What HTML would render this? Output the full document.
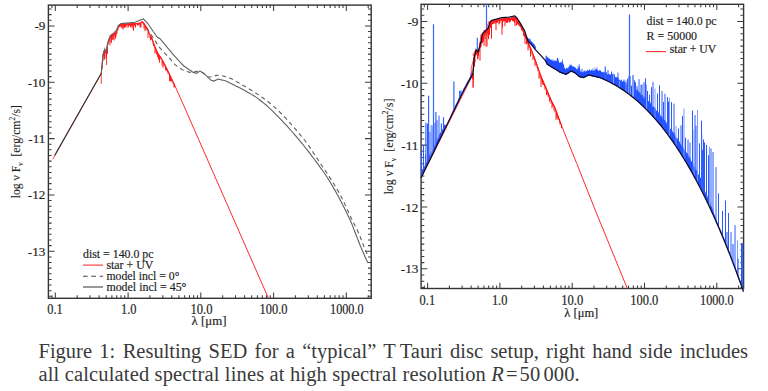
<!DOCTYPE html>
<html><head><meta charset="utf-8"><style>
html,body{margin:0;padding:0;background:#fff;width:768px;height:391px;overflow:hidden}
svg{position:absolute;left:0;top:0}
svg text{font-family:"Liberation Serif",serif;fill:#1e1e1e;stroke:#1e1e1e;stroke-width:0.18px}
.cap{position:absolute;left:38.5px;font-family:"Liberation Serif",serif;font-size:20.5px;color:#3a3a3a;white-space:nowrap;line-height:1}
</style></head><body>
<svg width="768" height="391" viewBox="0 0 768 391">
<rect x="48.4" y="5.1" width="322.8" height="293.2" fill="none" stroke="#333333" stroke-width="1.4"/>
<path d="M52 298.3V295.3M52 5.1V8.1M55.3 298.3V292.5M55.3 5.1V10.9M77.2 298.3V295.3M77.2 5.1V8.1M90 298.3V295.3M90 5.1V8.1M99.1 298.3V295.3M99.1 5.1V8.1M106.2 298.3V295.3M106.2 5.1V8.1M111.9 298.3V295.3M111.9 5.1V8.1M116.8 298.3V295.3M116.8 5.1V8.1M121 298.3V295.3M121 5.1V8.1M124.7 298.3V295.3M124.7 5.1V8.1M128.1 298.3V292.5M128.1 5.1V10.9M149.9 298.3V295.3M149.9 5.1V8.1M162.8 298.3V295.3M162.8 5.1V8.1M171.8 298.3V295.3M171.8 5.1V8.1M178.9 298.3V295.3M178.9 5.1V8.1M184.7 298.3V295.3M184.7 5.1V8.1M189.5 298.3V295.3M189.5 5.1V8.1M193.7 298.3V295.3M193.7 5.1V8.1M197.5 298.3V295.3M197.5 5.1V8.1M200.8 298.3V292.5M200.8 5.1V10.9M222.7 298.3V295.3M222.7 5.1V8.1M235.5 298.3V295.3M235.5 5.1V8.1M244.6 298.3V295.3M244.6 5.1V8.1M251.7 298.3V295.3M251.7 5.1V8.1M257.4 298.3V295.3M257.4 5.1V8.1M262.3 298.3V295.3M262.3 5.1V8.1M266.5 298.3V295.3M266.5 5.1V8.1M270.2 298.3V295.3M270.2 5.1V8.1M273.6 298.3V292.5M273.6 5.1V10.9M295.4 298.3V295.3M295.4 5.1V8.1M308.3 298.3V295.3M308.3 5.1V8.1M317.3 298.3V295.3M317.3 5.1V8.1M324.4 298.3V295.3M324.4 5.1V8.1M330.2 298.3V295.3M330.2 5.1V8.1M335 298.3V295.3M335 5.1V8.1M339.2 298.3V295.3M339.2 5.1V8.1M343 298.3V295.3M343 5.1V8.1M346.3 298.3V292.5M346.3 5.1V10.9M368.2 298.3V295.3M368.2 5.1V8.1M48.4 296.3H51.6M371.2 296.3H368M48.4 290.7H51.6M371.2 290.7H368M48.4 285H51.6M371.2 285H368M48.4 279.4H51.6M371.2 279.4H368M48.4 273.8H51.6M371.2 273.8H368M48.4 268.1H51.6M371.2 268.1H368M48.4 262.5H51.6M371.2 262.5H368M48.4 256.9H51.6M371.2 256.9H368M48.4 251.2H54.6M371.2 251.2H365M48.4 245.6H51.6M371.2 245.6H368M48.4 240H51.6M371.2 240H368M48.4 234.3H51.6M371.2 234.3H368M48.4 228.7H51.6M371.2 228.7H368M48.4 223.1H51.6M371.2 223.1H368M48.4 217.4H51.6M371.2 217.4H368M48.4 211.8H51.6M371.2 211.8H368M48.4 206.2H51.6M371.2 206.2H368M48.4 200.5H51.6M371.2 200.5H368M48.4 194.9H54.6M371.2 194.9H365M48.4 189.3H51.6M371.2 189.3H368M48.4 183.6H51.6M371.2 183.6H368M48.4 178H51.6M371.2 178H368M48.4 172.4H51.6M371.2 172.4H368M48.4 166.7H51.6M371.2 166.7H368M48.4 161.1H51.6M371.2 161.1H368M48.4 155.5H51.6M371.2 155.5H368M48.4 149.8H51.6M371.2 149.8H368M48.4 144.2H51.6M371.2 144.2H368M48.4 138.6H54.6M371.2 138.6H365M48.4 132.9H51.6M371.2 132.9H368M48.4 127.3H51.6M371.2 127.3H368M48.4 121.7H51.6M371.2 121.7H368M48.4 116H51.6M371.2 116H368M48.4 110.4H51.6M371.2 110.4H368M48.4 104.8H51.6M371.2 104.8H368M48.4 99.1H51.6M371.2 99.1H368M48.4 93.5H51.6M371.2 93.5H368M48.4 87.9H51.6M371.2 87.9H368M48.4 82.2H54.6M371.2 82.2H365M48.4 76.6H51.6M371.2 76.6H368M48.4 71H51.6M371.2 71H368M48.4 65.3H51.6M371.2 65.3H368M48.4 59.7H51.6M371.2 59.7H368M48.4 54.1H51.6M371.2 54.1H368M48.4 48.4H51.6M371.2 48.4H368M48.4 42.8H51.6M371.2 42.8H368M48.4 37.2H51.6M371.2 37.2H368M48.4 31.5H51.6M371.2 31.5H368M48.4 25.9H54.6M371.2 25.9H365M48.4 20.3H51.6M371.2 20.3H368M48.4 14.6H51.6M371.2 14.6H368M48.4 9H51.6M371.2 9H368" stroke="#3c3c3c" stroke-width="1.05" fill="none"/>
<rect x="421.1" y="4.3" width="322.5" height="284.2" fill="none" stroke="#333333" stroke-width="1.4"/>
<path d="M424.3 288.5V285.5M424.3 4.3V7.3M427.6 288.5V282.7M427.6 4.3V10.1M449.4 288.5V285.5M449.4 4.3V7.3M462.1 288.5V285.5M462.1 4.3V7.3M471.1 288.5V285.5M471.1 4.3V7.3M478.1 288.5V285.5M478.1 4.3V7.3M483.9 288.5V285.5M483.9 4.3V7.3M488.7 288.5V285.5M488.7 4.3V7.3M492.9 288.5V285.5M492.9 4.3V7.3M496.6 288.5V285.5M496.6 4.3V7.3M499.9 288.5V282.7M499.9 4.3V10.1M521.7 288.5V285.5M521.7 4.3V7.3M534.4 288.5V285.5M534.4 4.3V7.3M543.4 288.5V285.5M543.4 4.3V7.3M550.4 288.5V285.5M550.4 4.3V7.3M556.2 288.5V285.5M556.2 4.3V7.3M561 288.5V285.5M561 4.3V7.3M565.2 288.5V285.5M565.2 4.3V7.3M568.9 288.5V285.5M568.9 4.3V7.3M572.2 288.5V282.7M572.2 4.3V10.1M594 288.5V285.5M594 4.3V7.3M606.7 288.5V285.5M606.7 4.3V7.3M615.7 288.5V285.5M615.7 4.3V7.3M622.7 288.5V285.5M622.7 4.3V7.3M628.5 288.5V285.5M628.5 4.3V7.3M633.3 288.5V285.5M633.3 4.3V7.3M637.5 288.5V285.5M637.5 4.3V7.3M641.2 288.5V285.5M641.2 4.3V7.3M644.5 288.5V282.7M644.5 4.3V10.1M666.3 288.5V285.5M666.3 4.3V7.3M679 288.5V285.5M679 4.3V7.3M688 288.5V285.5M688 4.3V7.3M695 288.5V285.5M695 4.3V7.3M700.8 288.5V285.5M700.8 4.3V7.3M705.6 288.5V285.5M705.6 4.3V7.3M709.8 288.5V285.5M709.8 4.3V7.3M713.5 288.5V285.5M713.5 4.3V7.3M716.8 288.5V282.7M716.8 4.3V10.1M738.6 288.5V285.5M738.6 4.3V7.3M421.1 287.4H424.3M743.6 287.4H740.4M421.1 281.2H424.3M743.6 281.2H740.4M421.1 275H424.3M743.6 275H740.4M421.1 268.8H427.3M743.6 268.8H737.4M421.1 262.6H424.3M743.6 262.6H740.4M421.1 256.4H424.3M743.6 256.4H740.4M421.1 250.2H424.3M743.6 250.2H740.4M421.1 244.1H424.3M743.6 244.1H740.4M421.1 237.9H424.3M743.6 237.9H740.4M421.1 231.7H424.3M743.6 231.7H740.4M421.1 225.5H424.3M743.6 225.5H740.4M421.1 219.3H424.3M743.6 219.3H740.4M421.1 213.1H424.3M743.6 213.1H740.4M421.1 207H427.3M743.6 207H737.4M421.1 200.8H424.3M743.6 200.8H740.4M421.1 194.6H424.3M743.6 194.6H740.4M421.1 188.4H424.3M743.6 188.4H740.4M421.1 182.2H424.3M743.6 182.2H740.4M421.1 176H424.3M743.6 176H740.4M421.1 169.8H424.3M743.6 169.8H740.4M421.1 163.7H424.3M743.6 163.7H740.4M421.1 157.5H424.3M743.6 157.5H740.4M421.1 151.3H424.3M743.6 151.3H740.4M421.1 145.1H427.3M743.6 145.1H737.4M421.1 138.9H424.3M743.6 138.9H740.4M421.1 132.7H424.3M743.6 132.7H740.4M421.1 126.5H424.3M743.6 126.5H740.4M421.1 120.4H424.3M743.6 120.4H740.4M421.1 114.2H424.3M743.6 114.2H740.4M421.1 108H424.3M743.6 108H740.4M421.1 101.8H424.3M743.6 101.8H740.4M421.1 95.6H424.3M743.6 95.6H740.4M421.1 89.4H424.3M743.6 89.4H740.4M421.1 83.2H427.3M743.6 83.2H737.4M421.1 77.1H424.3M743.6 77.1H740.4M421.1 70.9H424.3M743.6 70.9H740.4M421.1 64.7H424.3M743.6 64.7H740.4M421.1 58.5H424.3M743.6 58.5H740.4M421.1 52.3H424.3M743.6 52.3H740.4M421.1 46.1H424.3M743.6 46.1H740.4M421.1 40H424.3M743.6 40H740.4M421.1 33.8H424.3M743.6 33.8H740.4M421.1 27.6H424.3M743.6 27.6H740.4M421.1 21.4H427.3M743.6 21.4H737.4M421.1 15.2H424.3M743.6 15.2H740.4M421.1 9H424.3M743.6 9H740.4" stroke="#3c3c3c" stroke-width="1.05" fill="none"/>
<path d="M52.8 159.3 L101.3 73.5 M101.3 73.5 V84 M106.3 53 L106.6 65 M111 37 L111.3 43 M113 34 V40 M115.2 33 V39" stroke="#ff2a2a" stroke-width="0.9" fill="none"/>
<path d="M101.3 73.5 L101.6 69.9 L102.1 64.6 L102.6 59.1 L103.1 55 L103.5 52.6 L104 51.1 L104.4 50.3 L104.8 50 L105.2 50.6 L105.5 52 L105.8 53.3 L106.1 53.5 L106.4 52.2 L106.7 50 L107.1 47.4 L107.5 45 L108.1 42.8 L108.7 40.7 L109.4 38.6 L110.2 37 L111.1 35.9 L112 35.2 L112.9 34.6 L113.8 34 L114.6 33.4 L115.3 32.9 L115.9 32.3 L116.5 31.5 L117 30.4 L117.4 29 L117.8 27.6 L118.3 26.5 L118.6 25.8 L118.9 25.2 L119.5 24.9 L121 24.5 L123.9 24.2 L127.8 23.9 L131.8 23.7 L135 23.5 L137 23.4 L138.4 23.3 L139.4 23.2 L140.3 23 L141 22.6 L141.5 22 L141.9 21.6 L142.6 21.8 L143.7 23 L144.9 24.8 L146.2 26.7 L147.2 28.4 L147.8 29.6 L148.2 30.7 L148.5 31.7 L149 32.8 L149.7 34.1 L150.5 35.6 L151.3 37 L152 38.5 L152.5 39.9 L153 41.2 L153.5 42.6 L154.1 44.3 L154.9 46.4 L155.9 48.7 L156.9 51.1 L157.9 53.2 L158.8 54.7 L159.7 56 L160.7 57.3 L161.8 59 L163.1 61.3 L164.5 63.9 L165.9 66.8 L167.5 70 L169.2 73.5 L171 77.3 L172.8 81.2 L174.6 85 L176.4 89.1 L178.3 93.3 L180 97.1 L181.2 99.8 L268.4 298.2" stroke="#ff2a2a" stroke-width="1" fill="none"/>
<path d="M101.5 71V72.7M102 65.3V69.2M102.5 60V61.9M103 55.5V61.1M103.5 52.5V55.7M104 50.8V52.1M104.5 50V59.7M105 50V52M105.5 51.8V53.2M106 53.1V57.9M106.5 51.3V59.4M107 47.5V50.6M107.5 44.7V53.9M108 42.8V44.5M108.5 41.1V42.7M109 39.5V42.4M109.5 38.2V40.6M110 37.1V45.4M110.5 36.3V38.3M111 35.7V37.6M111.5 35.2V42.4M112 34.9V39.9M112.5 34.6V39.3M113 34.3V37.2M113.5 33.9V35.8M114 33.5V40.5M114.5 33.1V35.6M115 32.8V35.3M115.5 32.4V38.3M116 31.9V36.5M116.5 31.2V34.3M117 30V33.4M117.5 28.3V30.3M118 26.9V30.3M118.5 25.8V27.6M119 24.9V27.3M119.5 24.6V27M120 24.4V26.7M120.5 24.3V25.8M121 24.2V27.4M121.5 24.1V26.9M122 24.1V28.4M122.5 24V25.9M123 24V29.6M123.5 23.9V28M124 23.9V25.6M124.5 23.8V27.9M125 23.8V25M125.5 23.8V26.9M126 23.7V27.4M126.5 23.7V25.2M127 23.7V25.5M127.5 23.6V24.8M128 23.6V27.9M128.5 23.6V26.6M129 23.5V25.1M129.5 23.5V25.7M130 23.5V24.6M130.5 23.5V27.1M131 23.4V27.5M131.5 23.4V25.3M132 23.4V27.1M132.5 23.4V25.5M133 23.3V28.8M133.5 23.3V30.9M134 23.3V25.8M134.5 23.2V25.6M135 23.2V25M135.5 23.2V27.6M136 23.1V24.4M136.5 23.1V24.2M137 23.1V24.4M137.5 23V25.6M138 23V25.2M138.5 23V25M139 22.9V24.3M139.5 22.8V24.6M140 22.8V27.4M140.5 22.6V26.6M141 22.3V27.5M141.5 21.7V22.8M142 21.3V22.7M142.5 21.5V23M143 21.9V23.9M143.5 22.5V24.7M144 23.1V28.6M144.5 23.8V26.4M145 24.6V31.2M145.5 25.3V28.3M146 26.1V29.8M146.5 26.9V28.9M147 27.8V30.4M147.5 28.7V30.1M148 29.8V37.9M148.5 31.3V33.3M149 32.5V34M149.5 33.5V34.9M150 34.4V38.3M150.5 35.3V40.6M151 36.2V38.6M151.5 37.2V39.4M152 38.2V40M152.5 39.4V41.8M153 40.9V44.4M153.5 42.4V46M154 43.7V45.5M154.5 45V47.5M155 46.3V53.5M155.5 47.5V50M156 48.7V52.3M156.5 49.9V53.9M157 51V54.9M157.5 52.1V56.9M158 53.1V56.4M158.5 53.9V59.7M159 54.7V57.7M159.5 55.4V62.6M160 56V57.3M160.5 56.7V58.7M161 57.4V59M161.5 58.2V59.7M162 59.1V65.5M162.5 60V62.4M163 60.9V67.8M163.5 61.8V63.5M164 62.8V65.9M164.5 63.7V65.6M165 64.7V66.7M165.5 65.7V70.4M166 66.7V70M166.5 67.7V70.6M167 68.7V70.9M167.5 69.7V72.1M168 70.7V73.8M168.5 71.8V73.4M169 72.8V74.7M169.5 73.8V81M170 74.9V79.2M170.5 75.9V81.4M171 77V78.3M171.5 78V81.5M172 79.1V80.4M172.5 80.2V81.7M173 81.2V83.6M173.5 82.3V84.5M174 83.4V87.5M174.5 84.5V87.1" stroke="#ff1f1f" stroke-width="1" fill="none"/>
<path d="M54.8 155.2 L101.3 73.2 L103.1 54.4 L104.8 49 L106.1 52.6 L107.5 43.6 L110.2 35.6 L113.8 32.9 L116.5 30.2 L118.3 25.7 L121 23.6 L135 22.2 L140.3 20 L143.4 18.9 L148 23.8 L153.4 31.8 L157.3 37.3 L159.8 38.5 L172 53.2 L179.6 61.6 L183.8 66 L193.3 72.4 L196.9 73.4 L200 70.9 L204.6 73.9 L210.7 80.1 L213.8 81.1 L218.4 79.1 L222 80 L222.4 80.1 L222.9 80.2 L223.6 80.3 L224.3 80.5 L225.1 80.8 L226 81.1 L227 81.5 L228 82 L229.1 82.6 L230.3 83.2 L231.6 83.8 L233 84.5 L234.4 85.2 L235.9 86 L237.5 86.7 L239.2 87.6 L241 88.5 L242.8 89.5 L244.8 90.6 L246.8 91.7 L249 92.9 L251.2 94.1 L253.4 95.5 L255.6 96.9 L257.7 98.4 L259.9 100 L262 101.7 L264.1 103.4 L266.3 105.2 L268.4 107.1 L270.5 109.1 L272.7 111.1 L274.8 113.3 L276.9 115.4 L279.1 117.7 L281.2 119.9 L283.3 122.1 L285.5 124.4 L287.6 126.7 L289.7 129.1 L291.9 131.5 L294 133.9 L296.1 136.4 L298.2 138.8 L300.3 141.3 L302.4 143.9 L304.5 146.5 L306.7 149.3 L309 152.2 L311.3 155.3 L313.7 158.5 L316 161.6 L318.3 164.7 L320.4 167.6 L322.3 170.3 L324.1 172.8 L325.8 175.3 L327.4 177.8 L329 180.3 L330.7 183 L332.4 185.9 L334.1 188.9 L335.9 191.9 L337.6 195.1 L339.3 198.2 L340.9 201.3 L342.5 204.5 L344.2 207.7 L345.8 211 L347.4 214.2 L348.8 217.2 L350.1 220 L351.2 222.4 L352.1 224.6 L352.8 226.6 L353.6 228.6 L354.4 230.7 L355.3 233 L356.4 235.7 L357.5 238.6 L358.7 241.7 L359.9 244.7 L361.1 247.6 L362.2 250.3 L363.3 252.8 L364.4 255.3 L365.5 257.7 L366.5 259.9 L367.4 261.7 L368 263" stroke="#606060" stroke-width="1.1" fill="none"/>
<path d="M147 28 L147.3 28.5 L147.7 29.2 L148.2 30.1 L148.8 31 L149.4 32 L150 33 L150.7 34 L151.4 35 L152.1 36.1 L152.9 37.2 L153.6 38.4 L154.4 39.5 L155.1 40.7 L155.9 41.9 L156.6 43.1 L157.3 44.3 L158.1 45.5 L158.9 46.6 L159.7 47.7 L160.6 48.7 L161.5 49.7 L162.4 50.6 L163.4 51.6 L164.3 52.6 L165.2 53.6 L166.2 54.6 L167.2 55.6 L168.1 56.6 L169.1 57.6 L170 58.6 L170.9 59.6 L171.7 60.7 L172.5 61.8 L173.4 62.8 L174.3 63.8 L175.3 64.8 L176.5 65.8 L177.7 66.7 L179.1 67.6 L180.4 68.5 L181.7 69.3 L183 70 L184.2 70.6 L185.5 71.1 L186.7 71.5 L187.8 71.8 L188.9 72.1 L189.9 72.3 L190.7 72.4 L191.4 72.3 L192.1 72.2 L192.7 72.1 L193.3 71.9 L194 71.8 L194.8 71.7 L195.6 71.5 L196.5 71.4 L197.4 71.2 L198.2 71.2 L199 71.2 L199.7 71.3 L200.4 71.5 L201 71.8 L201.6 72.2 L202.3 72.6 L203 73 L203.8 73.6 L204.7 74.3 L205.6 75 L206.5 75.8 L207.4 76.4 L208.3 76.8 L209.1 77 L209.9 77 L210.6 77 L211.4 76.8 L212.1 76.7 L213 76.5 L213.9 76.3 L214.7 76 L215.6 75.6 L216.6 75.4 L217.7 75.2 L219 75.2 L220.5 75.4 L222.2 75.7 L224.1 76.2 L226 76.7 L228 77.4 L230 78.2 L232 79.1 L234.1 80.2 L236.3 81.5 L238.5 82.7 L240.6 84 L242.8 85.3 L244.9 86.5 L247.1 87.8 L249.2 89 L251.3 90.3 L253.5 91.6 L255.6 93 L257.7 94.4 L259.9 95.8 L262 97.3 L264.1 98.8 L266.3 100.3 L268.4 102 L270.5 103.7 L272.7 105.6 L274.8 107.4 L276.9 109.4 L279.1 111.4 L281.2 113.5 L283.3 115.7 L285.5 117.9 L287.6 120.3 L289.7 122.6 L291.9 125.1 L294 127.5 L296.1 129.9 L298.2 132.3 L300.3 134.8 L302.4 137.3 L304.5 140 L306.7 142.9 L309 146.1 L311.3 149.6 L313.7 153.2 L316 156.8 L318.3 160.3 L320.4 163.5 L322.3 166.3 L324.1 168.9 L325.8 171.4 L327.4 173.8 L329 176.3 L330.7 178.9 L332.4 181.6 L334.1 184.3 L335.7 187 L337.4 189.9 L339.1 192.9 L340.9 196.2 L342.8 199.9 L344.8 204.1 L346.8 208.5 L348.8 212.8 L350.6 216.7 L352.1 220 L353.3 222.5 L354.3 224.3 L355.1 225.8 L355.9 227.1 L356.7 228.7 L357.6 230.7 L358.7 233.3 L359.9 236.3 L361.2 239.5 L362.4 242.7 L363.5 245.6 L364.5 248 L365.3 250 L366 251.7 L366.7 253.1 L367.2 254.3 L367.7 255.2 L368 256" stroke="#606060" stroke-width="1.1" fill="none" stroke-dasharray="4.2 3.3"/>
<path d="M54.8 155.2 L101.3 73.2" stroke="#303030" stroke-width="0.9" fill="none"/>
<path d="M83 265.1H103" stroke="#ff3030" stroke-width="1.1"/>
<path d="M83 276.3H103" stroke="#444" stroke-width="1.1" stroke-dasharray="4.6 3.7"/>
<path d="M83 287H103" stroke="#444" stroke-width="1.1"/>
<path d="M421.3 172.4 L421.8 171.2 L422.3 169.5 L422.8 169.3 L423.3 168.2 L423.8 167 L424.3 166.7 L424.8 165.1 L425.3 163.9 L425.8 162.6 L426.3 162.8 L426.8 161.4 L427.3 160.7 L427.8 158.4 L428.3 157.6 L428.8 157.8 L429.3 155 L429.8 154.1 L430.3 153.6 L430.8 152.6 L431.3 152.4 L431.8 151.7 L432.3 149.7 L432.8 149.5 L433.3 148.3 L433.8 147.2 L434.3 146.5 L434.8 144.7 L435.3 143.7 L435.8 142 L436.3 141.6 L436.8 140.3 L437.3 139.5 L437.8 138.2 L438.3 137.6 L438.8 136.9 L439.3 134.6 L439.8 133.5 L440.3 132.8 L440.8 132 L441.3 131.7 L441.8 130.8 L442.3 129.7 L442.8 129.1 L443.3 126.8 L443.8 126.4 L444.3 124.6 L444.8 124.4 L445.3 124.9 L445.8 125.7 L446.3 125.3 L446.8 124.2 L447.3 123.1 L447.8 122 L448.3 120.9 L448.8 119.8 L449.3 118.7 L449.8 117.6 L450.3 116.4 L450.8 115.3 L451.3 114.2 L451.8 113.1 L452.3 112 L452.8 110.9 L453.3 109.8 L453.8 108.7 L454.3 107.7 L454.8 106.7 L455.3 105.4 L455.8 104.5 L456.3 103.4 L456.8 102.4 L457.3 101.4 L457.8 100.4 L458.3 99.4 L458.8 98.4 L459.3 97.4 L459.8 96.4 L460.3 95.4 L460.8 94.4 L461.3 93.4 L461.8 92.4 L462.3 91.4 L462.8 90.4 L463.3 89.4 L463.8 88.4 L464.3 87.4 L464.8 86.4 L465.3 85.5 L465.8 84.4 L466.3 83.5 L466.8 82.6 L467.3 81.4 L467.8 80.7 L468.3 79.9 L468.8 79.2 L469.3 78.2 L469.8 76.9 L470.3 76.3 L470.8 75.1 L471.3 73.8 L471.3 77.3 L470.8 78.2 L470.3 79.1 L469.8 80 L469.3 80.9 L468.8 81.8 L468.3 82.7 L467.8 83.6 L467.3 84.5 L466.8 85.4 L466.3 86.3 L465.8 87.2 L465.3 88.1 L464.8 89.1 L464.3 90 L463.8 90.9 L463.3 91.9 L462.8 93 L462.3 94 L461.8 95 L461.3 96 L460.8 97 L460.3 98.1 L459.8 99.1 L459.3 100.1 L458.8 101.1 L458.3 102.2 L457.8 103.2 L457.3 104.2 L456.8 105.2 L456.3 106.3 L455.8 107.3 L455.3 108.3 L454.8 109.3 L454.3 110.4 L453.8 111.4 L453.3 112.4 L452.8 113.4 L452.3 114.4 L451.8 115.5 L451.3 116.5 L450.8 117.5 L450.3 118.5 L449.8 119.6 L449.3 120.6 L448.8 121.6 L448.3 122.6 L447.8 123.7 L447.3 124.7 L446.8 125.7 L446.3 126.7 L445.8 127.7 L445.3 128.8 L444.8 129.8 L444.3 130.8 L443.8 131.8 L443.3 132.9 L442.8 133.9 L442.3 134.9 L441.8 135.9 L441.3 137 L440.8 138 L440.3 139 L439.8 140 L439.3 141.1 L438.8 142.1 L438.3 143.1 L437.8 144.1 L437.3 145.1 L436.8 146.2 L436.3 147.2 L435.8 148.2 L435.3 149.2 L434.8 150.3 L434.3 151.3 L433.8 152.3 L433.3 153.3 L432.8 154.4 L432.3 155.4 L431.8 156.4 L431.3 157.4 L430.8 158.4 L430.3 159.5 L429.8 160.5 L429.3 161.5 L428.8 162.5 L428.3 163.6 L427.8 164.6 L427.3 165.6 L426.8 166.6 L426.3 167.7 L425.8 168.7 L425.3 169.7 L424.8 170.7 L424.3 171.8 L423.8 172.8 L423.3 173.8 L422.8 174.8 L422.3 175.8 L421.8 176.9 L421.3 177.9 Z" fill="#1f4dff"/>
<path d="M526.8 37.1 L527.3 37.3 L527.8 37.8 L528.3 38.3 L528.8 38.8 L529.3 39.6 L529.8 40 L530.3 40.3 L530.8 40.8 L531.3 41.3 L531.8 42 L532.3 42.3 L532.8 42.8 L533.3 43.9 L533.8 43.8 L534.3 44.3 L534.8 45.3 L535.3 46.1 L535.8 47 L535.8 50.5 L535.3 49.9 L534.8 49.3 L534.3 48.7 L533.8 48.1 L533.3 47.4 L532.8 46.8 L532.3 46.2 L531.8 45.6 L531.3 44.9 L530.8 44.4 L530.3 44 L529.8 43.5 L529.3 43.1 L528.8 42.6 L528.3 42.2 L527.8 41.1 L527.3 39.5 L526.8 38 Z" fill="#1f4dff"/>
<path d="M546.3 58.2 L546.8 57.6 L547.3 59.6 L547.8 59.1 L548.3 60.2 L548.8 59.5 L549.3 60.2 L549.8 61.1 L550.3 61.6 L550.8 61 L551.3 62.5 L551.8 62.5 L552.3 62.2 L552.8 61.9 L553.3 62.7 L553.8 63.5 L554.3 62.7 L554.8 64.3 L555.3 64.9 L555.8 64.7 L556.3 64.7 L556.8 65.7 L557.3 65.9 L557.8 65.9 L558.3 65.8 L558.8 67 L559.3 66.9 L559.8 66.3 L560.3 66.3 L560.8 67.1 L561.3 67.2 L561.8 67.6 L562.3 68.5 L562.8 68.9 L563.3 69.1 L563.8 67.7 L564.3 68.2 L564.8 67.9 L565.3 69.8 L565.8 68.9 L566.3 69.1 L566.8 68.3 L567.3 68.7 L567.8 67.2 L568.3 68.5 L568.8 67.4 L569.3 66.7 L569.8 66.1 L570.3 66.1 L570.8 65.8 L571.3 65.4 L571.8 65.5 L572.3 66.7 L572.8 66.3 L573.3 66.2 L573.8 66.5 L574.3 67.6 L574.8 67.1 L575.3 67.2 L575.8 68.2 L576.3 68.6 L576.8 69.4 L577.3 69.5 L577.8 69.9 L578.3 71.3 L578.8 70.7 L579.3 70.5 L579.8 70.9 L580.3 71.3 L580.8 72 L581.3 71.5 L581.8 71.9 L582.3 72.3 L582.8 71.7 L583.3 73.2 L583.8 71.9 L584.3 72.9 L584.8 71.7 L585.3 71.6 L585.8 71.8 L586.3 70.7 L586.8 70.8 L587.3 70.4 L587.8 69.6 L588.3 70.5 L588.8 70.8 L589.3 70.4 L589.8 69.8 L590.3 70.8 L590.8 71 L591.3 69.8 L591.8 70.3 L592.3 70.8 L592.8 70.1 L593.3 71.2 L593.8 70.7 L594.3 71.7 L594.8 71.4 L595.3 70.8 L595.8 70.8 L596.3 70.9 L596.8 71.9 L597.3 71.7 L597.8 72.3 L598.3 72.8 L598.8 72.2 L599.3 71.7 L599.8 71.8 L600.3 70.4 L600.8 70 L601.3 71.8 L601.8 72.2 L602.3 71.7 L602.8 72.3 L603.3 72.7 L603.8 72.4 L604.3 72 L604.8 72.5 L605.3 73.2 L605.8 72 L606.3 71.8 L606.8 73.4 L607.3 74.6 L607.8 74.9 L608.3 72.9 L608.8 75.3 L609.3 73.7 L609.8 74.3 L610.3 75.2 L610.8 74.1 L611.3 76.5 L611.8 76.4 L612.3 75.7 L612.8 77.2 L613.3 75.2 L613.8 77.1 L614.3 77.6 L614.8 78.1 L615.3 76.7 L615.8 77.4 L616.3 77.2 L616.8 77.3 L617.3 77.2 L617.8 77 L618.3 78 L618.8 79.7 L619.3 79.2 L619.8 80.3 L620.3 81.1 L620.8 80 L621.3 79.6 L621.8 81.5 L622.3 81.5 L622.8 81.6 L623.3 80.8 L623.8 81.6 L624.3 81.6 L624.8 81.5 L625.3 82.9 L625.8 82 L626.3 81.9 L626.8 84.9 L627.3 82.5 L627.8 83.5 L628.3 85.7 L628.8 85 L629.3 84.8 L629.8 84.2 L630.3 86.3 L630.8 86 L631.3 85.3 L631.8 85.9 L632.3 85.8 L632.8 87.7 L633.3 87.5 L633.8 89.3 L634.3 87.9 L634.8 88 L635.3 89 L635.8 89.1 L636.3 91.2 L636.8 89.2 L637.3 89.3 L637.8 89.7 L638.3 91.7 L638.8 91.2 L639.3 93.2 L639.8 91.5 L640.3 92.2 L640.8 94.4 L641.3 95.9 L641.8 95 L642.3 95.1 L642.8 94.8 L643.3 96.3 L643.8 98.4 L644.3 96.1 L644.8 99.3 L645.3 97.1 L645.8 99.9 L646.3 99.8 L646.8 98.7 L647.3 101.5 L647.8 102 L648.3 101.2 L648.8 100.9 L649.3 101 L649.8 102.1 L650.3 101.7 L650.8 103.9 L651.3 102.8 L651.8 106.4 L652.3 106.5 L652.8 105.9 L653.3 107.3 L653.8 106.3 L654.3 107.2 L654.8 108.2 L655.3 107.6 L655.8 109.2 L656.3 110.7 L656.8 111 L657.3 109.9 L657.8 110.3 L658.3 113.4 L658.8 111.7 L659.3 111.9 L659.8 114.1 L660.3 114.5 L660.8 116.4 L661.3 115.9 L661.8 116.6 L662.3 116.9 L662.8 119.6 L663.3 116.8 L663.8 119.1 L664.3 120.1 L664.8 119.4 L665.3 120.9 L665.8 121.8 L666.3 121.7 L666.8 124.6 L667.3 123.6 L667.8 124.7 L668.3 123.5 L668.8 124.3 L669.3 127.3 L669.8 127.3 L670.3 129.2 L670.8 128.8 L671.3 128.1 L671.8 128.5 L672.3 130.8 L672.8 132.1 L673.3 133.2 L673.8 132.4 L674.3 132 L674.8 135.6 L675.3 134 L675.8 137.5 L676.3 137.6 L676.8 138.3 L677.3 137.4 L677.8 139.5 L678.3 140.1 L678.8 139.9 L679.3 142.5 L679.8 141.1 L680.3 144 L680.8 143.4 L681.3 145.2 L681.8 146.2 L682.3 145.8 L682.8 146.9 L683.3 147.9 L683.8 148.6 L684.3 149 L684.8 151.2 L685.3 151.8 L685.8 151.1 L686.3 152 L686.8 153.2 L687.3 152.9 L687.8 154.6 L688.3 154.6 L688.8 157.7 L689.3 156.7 L689.8 157.4 L690.3 157.9 L690.8 160.9 L691.3 161.8 L691.8 160.5 L692.3 163.9 L692.8 162 L693.3 163.3 L693.8 166.9 L694.3 167.5 L694.8 166.6 L695.3 169.3 L695.8 170.8 L696.3 169.1 L696.8 171.5 L697.3 171.1 L697.8 174.4 L698.3 174.4 L698.8 174.3 L699.3 177.7 L699.8 178 L700.3 177.4 L700.8 177.8 L701.3 178.9 L701.8 183 L702.3 182.9 L702.8 183.4 L703.3 185.4 L703.8 186.1 L704.3 188.8 L704.8 190.4 L705.3 191.5 L705.8 192.9 L706.3 192.9 L706.8 194.2 L707.3 195.4 L707.8 197.7 L708.3 198.8 L708.8 200.1 L709.3 200.1 L709.8 201.1 L710.3 202.6 L710.8 205.4 L711.3 206.7 L711.8 206.6 L712.3 208.7 L712.8 209.6 L713.3 211.6 L713.8 212.7 L714.3 214 L714.8 215.5 L715.3 216.7 L715.8 218.6 L716.3 219.7 L716.8 220.7 L717.3 222.3 L717.8 223.3 L718.3 224.2 L718.8 225.6 L719.3 227 L719.8 228.2 L720.3 229.1 L720.8 230.6 L721.3 231.2 L721.8 232.4 L722.3 233.7 L722.8 234.8 L723.3 236.2 L723.8 237.6 L724.3 238.6 L724.8 239.9 L725.3 240.8 L725.8 242.2 L726.3 243.8 L726.8 244.6 L727.3 246 L727.8 247.2 L728.3 248.4 L728.8 250 L729.3 250.9 L729.8 252.2 L730.3 253.6 L730.8 254.9 L731.3 256.2 L731.8 257.7 L732.3 258.8 L732.8 260.6 L733.3 261.7 L733.8 262.9 L734.3 264.6 L734.8 265.7 L735.3 266.8 L735.8 268.2 L736.3 269.8 L736.8 270.6 L737.3 272.2 L737.8 273.8 L738.3 274.9 L738.8 276.4 L739.3 277.8 L739.8 279.3 L740.3 280.2 L740.8 281.9 L741.3 283.3 L741.8 284.6 L742.3 285.9 L742.8 288 L743.3 289 L743.3 291.7 L742.8 290.3 L742.3 288.9 L741.8 287.4 L741.3 286 L740.8 284.6 L740.3 283.2 L739.8 281.8 L739.3 280.4 L738.8 279.1 L738.3 277.7 L737.8 276.3 L737.3 274.9 L736.8 273.6 L736.3 272.2 L735.8 270.9 L735.3 269.5 L734.8 268.2 L734.3 266.9 L733.8 265.5 L733.3 264.2 L732.8 262.9 L732.3 261.6 L731.8 260.3 L731.3 259 L730.8 257.7 L730.3 256.4 L729.8 255.1 L729.3 253.8 L728.8 252.6 L728.3 251.3 L727.8 250 L727.3 248.8 L726.8 247.5 L726.3 246.3 L725.8 245 L725.3 243.8 L724.8 242.6 L724.3 241.3 L723.8 240.1 L723.3 238.9 L722.8 237.7 L722.3 236.5 L721.8 235.3 L721.3 234.1 L720.8 232.9 L720.3 231.7 L719.8 230.5 L719.3 229.4 L718.8 228.2 L718.3 227 L717.8 225.9 L717.3 224.7 L716.8 223.6 L716.3 222.4 L715.8 221.3 L715.3 220.2 L714.8 219 L714.3 217.9 L713.8 216.8 L713.3 215.7 L712.8 214.6 L712.3 213.5 L711.8 212.4 L711.3 211.3 L710.8 210.2 L710.3 209.1 L709.8 208.1 L709.3 207 L708.8 205.9 L708.3 204.9 L707.8 203.8 L707.3 202.8 L706.8 201.7 L706.3 200.7 L705.8 199.7 L705.3 198.6 L704.8 197.6 L704.3 196.6 L703.8 195.6 L703.3 194.6 L702.8 193.6 L702.3 192.6 L701.8 191.6 L701.3 190.6 L700.8 189.6 L700.3 188.6 L699.8 187.6 L699.3 186.7 L698.8 185.7 L698.3 184.7 L697.8 183.8 L697.3 182.8 L696.8 181.9 L696.3 181 L695.8 180 L695.3 179.1 L694.8 178.2 L694.3 177.2 L693.8 176.3 L693.3 175.4 L692.8 174.5 L692.3 173.6 L691.8 172.7 L691.3 171.8 L690.8 170.9 L690.3 170 L689.8 169.2 L689.3 168.3 L688.8 167.4 L688.3 166.6 L687.8 165.7 L687.3 164.9 L686.8 164 L686.3 163.2 L685.8 162.3 L685.3 161.5 L684.8 160.7 L684.3 159.8 L683.8 159 L683.3 158.2 L682.8 157.4 L682.3 156.6 L681.8 155.8 L681.3 155 L680.8 154.2 L680.3 153.4 L679.8 152.6 L679.3 151.8 L678.8 151 L678.3 150.3 L677.8 149.5 L677.3 148.7 L676.8 148 L676.3 147.2 L675.8 146.5 L675.3 145.7 L674.8 145 L674.3 144.3 L673.8 143.5 L673.3 142.8 L672.8 142.1 L672.3 141.4 L671.8 140.7 L671.3 140 L670.8 139.3 L670.3 138.6 L669.8 137.9 L669.3 137.2 L668.8 136.5 L668.3 135.8 L667.8 135.1 L667.3 134.4 L666.8 133.8 L666.3 133.1 L665.8 132.4 L665.3 131.8 L664.8 131.1 L664.3 130.5 L663.8 129.8 L663.3 129.2 L662.8 128.6 L662.3 127.9 L661.8 127.3 L661.3 126.7 L660.8 126.1 L660.3 125.5 L659.8 124.8 L659.3 124.2 L658.8 123.6 L658.3 123 L657.8 122.4 L657.3 121.9 L656.8 121.3 L656.3 120.7 L655.8 120.1 L655.3 119.5 L654.8 119 L654.3 118.4 L653.8 117.8 L653.3 117.3 L652.8 116.7 L652.3 116.2 L651.8 115.6 L651.3 115.1 L650.8 114.6 L650.3 114 L649.8 113.5 L649.3 113 L648.8 112.4 L648.3 111.9 L647.8 111.4 L647.3 110.9 L646.8 110.4 L646.3 109.9 L645.8 109.4 L645.3 108.9 L644.8 108.4 L644.3 107.9 L643.8 107.4 L643.3 106.9 L642.8 106.5 L642.3 106 L641.8 105.5 L641.3 105.1 L640.8 104.6 L640.3 104.1 L639.8 103.7 L639.3 103.2 L638.8 102.8 L638.3 102.3 L637.8 101.9 L637.3 101.5 L636.8 101 L636.3 100.6 L635.8 100.2 L635.3 99.8 L634.8 99.3 L634.3 98.9 L633.8 98.5 L633.3 98.1 L632.8 97.7 L632.3 97.3 L631.8 96.9 L631.3 96.5 L630.8 96.1 L630.3 95.7 L629.8 95.3 L629.3 95 L628.8 94.6 L628.3 94.2 L627.8 93.8 L627.3 93.5 L626.8 93.1 L626.3 92.8 L625.8 92.4 L625.3 92 L624.8 91.7 L624.3 91.3 L623.8 91 L623.3 90.7 L622.8 90.3 L622.3 90 L621.8 89.7 L621.3 89.3 L620.8 89 L620.3 88.7 L619.8 88.4 L619.3 88.1 L618.8 87.7 L618.3 87.4 L617.8 87.1 L617.3 86.8 L616.8 86.5 L616.3 86.2 L615.8 85.9 L615.3 85.6 L614.8 85.4 L614.3 85.1 L613.8 84.8 L613.3 84.5 L612.8 84.2 L612.3 84 L611.8 83.7 L611.3 83.4 L610.8 83.2 L610.3 82.9 L609.8 82.6 L609.3 82.4 L608.8 82.1 L608.3 81.9 L607.8 81.6 L607.3 81.4 L606.8 81.1 L606.3 80.9 L605.8 80.7 L605.3 80.4 L604.8 80.2 L604.3 80 L603.8 79.8 L603.3 79.5 L602.8 79.3 L602.3 79.1 L601.8 78.9 L601.3 78.7 L600.8 78.5 L600.3 78.2 L599.8 78.1 L599.3 77.9 L598.8 77.8 L598.3 77.7 L597.8 77.6 L597.3 77.5 L596.8 77.3 L596.3 77.2 L595.8 77.1 L595.3 77 L594.8 76.9 L594.3 76.7 L593.8 76.6 L593.3 76.5 L592.8 76.4 L592.3 76.3 L591.8 76.2 L591.3 76.1 L590.8 76 L590.3 75.9 L589.8 75.8 L589.3 75.7 L588.8 75.5 L588.3 75.7 L587.8 75.9 L587.3 76.2 L586.8 76.4 L586.3 76.7 L585.8 76.9 L585.3 77.2 L584.8 77.4 L584.3 77.7 L583.8 77.9 L583.3 78.1 L582.8 77.9 L582.3 77.8 L581.8 77.7 L581.3 77.6 L580.8 77.4 L580.3 77.3 L579.8 77.2 L579.3 77 L578.8 76.6 L578.3 76.1 L577.8 75.7 L577.3 75.3 L576.8 74.8 L576.3 74.4 L575.8 73.9 L575.3 73.5 L574.8 73.3 L574.3 73 L573.8 72.8 L573.3 72.5 L572.8 72.3 L572.3 72 L571.8 71.8 L571.3 71.5 L570.8 71.8 L570.3 72.1 L569.8 72.4 L569.3 72.7 L568.8 73.1 L568.3 73.4 L567.8 73.7 L567.3 74 L566.8 74.3 L566.3 74.7 L565.8 74.7 L565.3 74.5 L564.8 74.4 L564.3 74.2 L563.8 74 L563.3 73.8 L562.8 73.7 L562.3 73.5 L561.8 73.3 L561.3 73.1 L560.8 73 L560.3 72.8 L559.8 72.6 L559.3 72.2 L558.8 71.9 L558.3 71.6 L557.8 71.2 L557.3 70.9 L556.8 70.5 L556.3 70.2 L555.8 69.9 L555.3 69.6 L554.8 69.3 L554.3 69 L553.8 68.7 L553.3 68.5 L552.8 68.2 L552.3 67.9 L551.8 67.6 L551.3 67.3 L550.8 67 L550.3 66.7 L549.8 66.3 L549.3 66 L548.8 65.7 L548.3 65.3 L547.8 65 L547.3 64.7 L546.8 64.1 L546.3 63 Z" fill="#1f4dff"/>
<path d="M421.5 177V151.2M423.5 172.9V145.2M425.5 168.8V154.4M427.5 164.7V123.7M430 159.6V132M432 155.5V125.5M435 149.4V122.8M437 145.3V120.3M439 141.2V115.6M441.5 136V124.8M444 130.9V126.3M446.5 125.8V124.9M448.5 121.7V121.3M451 116.6V116M453 112.5V111.7M459 100.2V98.3M460.5 97.2V96.4M464 90V88.4M466.5 85.5V83.8M467.5 83.7V82M469.5 80.1V78M529 42.3V40.5M531 44.1V42.2M532.5 45.9V42.6M534 47.8V45.1M546 61.9V55.8M548 64.7V60.3M550.5 66.3V60.6M552.5 67.5V61.1M554 68.4V62.6M555.5 69.2V61M556.5 69.8V66.8M557.5 70.5V62.7M560 72.2V65.7M561.5 72.7V63.9M563.5 73.4V66.1M565.5 74.1V69.1M566.5 74V68M569 72.4V66.6M571 71.1V67.2M572.5 71.6V67.9M575 72.9V69M576.5 74.1V69.3M577.5 74.9V69.6M580 76.7V73.2M582 77.2V68.9M583 77.5V73.7M585.5 76.6V73.1M587.5 75.6V71.2M589.5 75.2V69.4M590.5 75.4V70.9M597 76.9V69.8M599.5 77.5V71.3M601.5 78.3V74.2M604 79.3V71.7M606.5 80.5V72.9M608 81.2V70M609.5 82V76.8M611.5 83V71.5M612.5 83.6V73.9M614.5 84.7V74.4M617 86.1V80.2M618 86.7V72.6M621.5 89V79.8M624 90.6V79.5M627.5 93.1V78.7M634.5 98.6V80.3M635.5 99.4V82.3M637 100.7V86.1M639 102.5V79.2M641 104.3V84.8M642 105.2V84.4M644 107.1V82.2M645.5 108.6V78.2M647.5 110.6V91M649.5 112.7V94.7M651.5 114.8V87.2M653 116.4V81.8M657.5 121.6V93.6M659.5 124V85.3M662 127.1V91.1M663.5 129V101.9M665 130.9V93.7M667.5 134.2V97.1M668.5 135.6V101.6M671.5 139.7V102.2M674 143.3V103.6M678.5 150.1V128.5M681 154V125.3M682.5 156.4V115.8M685.5 161.3V137.7M688 165.6V139.5M690 169V142.5M692.5 173.5V110.5M695 178V115M696 179.9V125.7M699.5 186.5V143.3M701.5 190.5V120.7M702.5 192.5V149.8M703.5 194.5V139.5M704.5 196.5V142.4M706.5 200.6V144.8M708.5 204.8V155.2M711 210.2V148.6M713 214.5V152.1M716 221.3V167.1M718.5 227V193.3M722.5 236.5V211M725.5 243.8V200.5M728.5 251.3V213M731 257.7V232.2M735 268.2V225.1M741.5 286.1V243.4" stroke="#2a5aff" stroke-width="1" fill="none"/>
<path d="M431 157.5V124.9M433 153.4V128.1M455 108.4V107.5M457 104.3V103.4M462.5 93.1V92.1M593 75.9V67.8M595 76.4V70M613.5 84.1V73.5M619.5 87.7V81M626 92V80.2M628.5 93.9V76.3M630.5 95.4V76.1M632.5 97V75.2M633.5 97.8V74.9M646.5 109.6V84.6M655 118.7V88.5M669.5 136.9V97.8M676 146.3V125.8M684 158.8V108.5M694 176.2V129.6M697.5 182.7V109.9M709.5 206.9V146.6M737.5 275V240.4" stroke="#7f9cff" stroke-width="1" fill="none"/>
<path d="M546 61.9 L546.5 55 L547 56.9 L547.5 57.5 L548 56.2 L548.5 58.5 L549 58.3 L549.5 58.6 L550 58.9 L550.5 60.1 L551 59.5 L551.5 60.2 L552 59 L552.5 61.6 L553 58.2 L553.5 61.8 L554 60 L554.5 61.2 L555 59.8 L555.5 61.8 L556 61.5 L556.5 60.9 L557 58.2 L557.5 58.1 L558 57.7 L558.5 60 L559 62.4 L559.5 62.7 L560 62.5 L560.5 62.6 L561 61.7 L561.5 62.9 L562 60.6 L562.5 58.4 L563 63 L563.5 64.3 L564 65 L564.5 68.4 L565 69.2 L565.5 70.5 L566 69.4 L566.5 70.9 L567 72.4 L567.5 70.8 L568 68.7 L568.5 68.5 L569 68.3 L569.5 64.1 L570 66.9 L570.5 65.1 L571 63.3 L571.5 66.4 L572 64.9 L572.5 67.9 L573 69 L573.5 68.9 L574 68.5 L574.5 68.8 L575 70.4 L575.5 67.9 L576 71.9 L576.5 70.5 L577 70.7 L577.5 69.7 L578 64.2 L578.5 69 L579 63.5 L579.5 65.2 L580 68.5 L580.5 72.4 L581 71.9 L581.5 71.5 L582 73 L582.5 72.9 L583 73.4 L583.5 71.2 L584 70.4 L584.5 70.2 L585 71.5 L585.5 72.1 L586 73 L586.5 72.2 L587 71.2 L587.5 71.2 L588 72.8 L588.5 72.7 L589 72.5 L589.5 69.5 L590 72.4 L590.5 71.7 L591 71.3 L591.5 69.3 L592 71.5 L592.5 71.1 L593 69.5 L593.5 71 L594 70.7 L594.5 70.7 L595 66.7 L595.5 70 L596 69.3 L596.5 69.3 L597 65.9 L597.5 70 L598 70.4 L598.5 70.7 L599 71.1 L599.5 69.3 L600 71.4 L600 78.1 L599 77.9 L598 77.6 L597 77.4 L596 77.1 L595 76.9 L594 76.7 L593 76.4 L592 76.2 L591 76 L590 75.8 L589 75.6 L588 75.8 L587 76.3 L586 76.8 L585 77.3 L584 77.8 L583 78 L582 77.7 L581 77.5 L580 77.2 L579 76.7 L578 75.9 L577 75 L576 74.1 L575 73.4 L574 72.9 L573 72.4 L572 71.9 L571 71.6 L570 72.3 L569 72.9 L568 73.6 L567 74.2 L566 74.8 L565 74.4 L564 74.1 L563 73.7 L562 73.4 L561 73 L560 72.7 L559 72 L558 71.3 L557 70.7 L556 70 L555 69.4 L554 68.9 L553 68.3 L552 67.7 L551 67.1 L550 66.5 L549 65.8 L548 65.2 L547 64.5 L546 62.4 Z" fill="#1f4dff"/>
<path d="M527.5 38.5 L529 40 L530 38 L531 41.5 L533 43 L535 45.5 L535 49.6 L533 47.1 L531 44.6 L529 42.8 L527.5 40.1 Z" fill="#2f5cff"/>
<path d="M433.5 152.4V24.3M428.6 162.5V95.8M425.9 168V122.7M435.9 147.5V112M441.4 136.3V123.5M443.5 132V117.3M453.9 110.7V81.5M459.6 99V90.8M461 96.1V90.4M471 77.3V72.5M477.3 51.2V37.7M486.5 29.8V4.3M629.5 94.6V14.6M605.3 79.9V66.6M701.6 190.7V134M727 247.5V232M733 262.9V244M738 276.4V259M742.6 289.2V243" stroke="#3566ff" stroke-width="1.2" fill="none"/>
<path d="M421.1 177.8 L472.9 74.5 V88 M473.4 74 V87" stroke="#ff2020" stroke-width="0.9" fill="none"/>
<path d="M472.9 74.5 L473.1 71.4 L473.4 67 L473.8 62.3 L474.2 58.5 L474.6 55.7 L475.1 53.3 L475.6 51.6 L476.1 50.5 L476.5 50.7 L477 51.9 L477.4 53 L478 53 L478.8 51.2 L479.6 48.4 L480.5 45.2 L481.2 42.5 L481.6 40.3 L481.9 38.2 L482.1 36.4 L482.4 35 L482.8 34.2 L483.1 33.9 L483.6 33.8 L484 33.5 L484.5 33 L485 32.5 L485.5 32 L486 31.5 L486.5 31.1 L487.1 30.8 L487.6 30.3 L488.1 29.5 L488.6 28.1 L489.1 26.2 L489.6 24.4 L490.1 23 L490.3 22.3 L490.4 22 L490.7 21.8 L491.7 21.5 L493.7 20.9 L496.5 20.2 L499.4 19.5 L502 19 L504.1 18.7 L505.9 18.7 L507.6 18.6 L509.2 18.5 L510.8 18.2 L512.3 17.9 L513.7 17.6 L514.8 17.5 L515.6 17.7 L516.1 18 L516.5 18.5 L516.9 19 L517.4 19.5 L517.8 20.1 L518.3 20.9 L519 22 L519.9 23.6 L520.9 25.6 L522 27.7 L523 30 L524 32.4 L525 34.9 L526 37.5 L527 40 L528 42.2 L528.9 44.3 L529.9 46.5 L531 49 L532.2 52 L533.5 55.2 L534.8 58.7 L536 62 L537.2 65.3 L538.3 68.6 L539.4 71.8 L540.6 75 L541.8 78.1 L543.1 81 L544.4 84 L545.7 87 L547 90.1 L548.3 93.3 L549.6 96.4 L550.8 99.3 L552 101.8 L553.2 104.1 L554.3 106.2 L555.3 108.4 L556.1 110.5 L556.8 112.4 L557.5 114.5 L558.5 117.2 L559.7 120.3 L560.9 123.7 L562.5 127.8 L564.5 133 L567.4 140.3 L571 149.3 L574.4 157.8 L576.8 163.6 L576.8 163.6 L595.2 210 L627.3 288.5" stroke="#ff2a2a" stroke-width="1" fill="none"/>
<path d="M472.5 74.2V78.9M473 72.8V79.4M473.5 65.8V71.7M474 60.1V62M474.5 56.3V66.7M475 53.6V62.3M475.5 51.7V55.4M476 50.4V54.6M476.5 50.4V52.2M477 51.7V54.5M477.5 52.7V58.9M478 52.7V59.3M478.5 51.5V56.2M479 50.1V51.9M479.5 48.5V51M480 46.8V60.7M480.5 45V47.8M481 43V47.1M481.5 40.7V43.1M482 37.1V42.4M482.5 34.5V43M483 33.7V36.9M483.5 33.5V41.6M484 33.2V45.8M484.5 32.7V35.7M485 32.2V39.1M485.5 31.7V34.6M486 31.2V46.5M486.5 30.8V32.7M487 30.5V46.6M487.5 30.1V33.3M488 29.4V36.3M488.5 28.1V39.2M489 26.4V32.4M489.5 24.6V34.9M490 23V26.1M490.5 21.6V27.9M491 21.4V27.4M491.5 21.3V38.6M492 21.1V22.8M492.5 21V24.4M493 20.8V23.1M493.5 20.7V23.7M494 20.5V22.8M494.5 20.4V22.1M495 20.3V24.1M495.5 20.1V22M496 20V30.2M496.5 19.9V22.4M497 19.8V23.1M497.5 19.7V22.4M498 19.5V21.2M498.5 19.4V21M499 19.3V24.5M499.5 19.2V23.3M500 19.1V22.6M500.5 19V20.7M501 18.9V20.7M501.5 18.8V21M502 18.7V34.7M502.5 18.6V27.6M503 18.6V21.4M503.5 18.5V21.3M504 18.5V21M504.5 18.4V20.9M505 18.4V26.3M505.5 18.4V21.3M506 18.4V20M506.5 18.3V22.9M507 18.3V20.7M507.5 18.3V22.8M508 18.3V22M508.5 18.2V20.7M509 18.2V20.4M509.5 18.1V22.6M510 18.1V20.3M510.5 18V21.6M511 17.9V19.4M511.5 17.8V19.8M512 17.6V20.4M512.5 17.5V21.1M513 17.4V19.8M513.5 17.3V21.5M514 17.3V19.6M514.5 17.2V22.8M515 17.2V26.2M515.5 17.3V20.3M516 17.7V19.5M516.5 18.2V25.3M517 18.8V22.9M517.5 19.4V23.8M518 20V24.9M518.5 20.8V24.7M519 21.7V25.4M519.5 22.6V26.4M520 23.6V25.1M520.5 24.5V27.3M521 25.5V27.5M521.5 26.5V30.2M522 27.5V30.4M522.5 28.6V30.2M523 29.7V32M523.5 30.9V35.8M524 32.1V34.6M524.5 33.4V36.8M525 34.6V44.1M525.5 35.9V38.1M526 37.2V39M526.5 38.5V44.2M527 39.7V41.4M527.5 40.8V43.3M528 42V50.5M528.5 43.1V45.8M529 44.1V47.9M529.5 45.2V47.1M530 46.4V49.7M530.5 47.5V56.6M531 48.7V51.2M531.5 49.9V51.5M532 51.2V54.5M532.5 52.5V54.3M533 53.8V60.1M533.5 55V57.8M534 56.4V58.6M534.5 57.7V60.2M535 59V65.9M535.5 60.4V62.5M536 61.7V64.7M536.5 63.1V65.4M537 64.5V67.5M537.5 65.9V68.9M538 67.4V71M538.5 68.9V71.1M539 70.3V78.7M539.5 71.7V73.9M540 73.1V77.9M540.5 74.4V76.6M541 75.7V87.1M541.5 76.9V80.5M542 78.1V81.9M542.5 79.3V83.8M543 80.5V85.1M543.5 81.6V84.8M544 82.8V85M544.5 83.9V86.8M545 85.1V89.6M545.5 86.2V87.8M546 87.4V90.3M546.5 88.6V95M547 89.9V91.4M547.5 91.1V93.8M548 92.3V96.5M548.5 93.5V96.5M549 94.8V97.3M549.5 96V101.7M550 97.1V99.4M550.5 98.3V100M551 99.4V103.5M551.5 100.5V102.7M552 101.5V108.3M552.5 102.5V105.4M553 103.4V106.5M553.5 104.4V106.3M554 105.4V110.6M554.5 106.4V108.5M555 107.5V112.4M555.5 108.6V110.2M556 109.8V119.8M556.5 111.2V115.4M557 112.6V118.2M557.5 114.1V117.9M558 115.5V119.8M558.5 116.9V119.2M559 118.2V120.1M559.5 119.6V122.3M560 120.9V124.6M560.5 122.3V124M561 123.6V125.3M561.5 124.9V128.3" stroke="#ff1a1a" stroke-width="1" fill="none"/>
<path d="M471.8 76 L471.1 68.3 L473.2 61 L474 56.4 L474.4 56.2 L472.8 55 L474.9 51.9 L474.6 50.9 L476.6 54.6 L475.8 51.8 L477.6 52 L475.9 51.4 L477.2 54.9 L479.2 50.1 L478.6 51.3 L479.8 45.9 L480.2 42.8 L479.6 45 L480.7 37.7 L480.5 38 L481.2 34.5 L481.2 35.8 L482.3 35.1 L483.7 34.2 L482.8 35 L484.4 35.2 L483.7 30.4 L485.9 31 L486.8 33.6 L485.7 32 L485.3 30.4 L487.8 28.1 L487.9 30.5 L487.8 24.4 L488.7 22.6 L488.7 21.5 L490.4 23.8 L489.2 23.5 L491.1 23.5" stroke="#ff2020" stroke-width="0.8" fill="none"/>
<path d="M421.1 177.8 L464 90 L472.9 73.9 L474.2 57.9 L476.1 49.6 L478 52.1 L481.2 41.3 L482.4 33.5 L484 32.2 L486 30.2 L488.1 28.4 L490.1 21.8 L491.7 20.3 L502 17.7 L509.2 17.1 L514.8 16 L516.9 17.8 L520.4 23.4 L524.5 30.6 L526 35 L528.1 41.5 L531.1 44.2 L535.2 49.3 L540.3 54.9 L545.4 60.6 L547 64 L551.6 67 L556 69.5 L560 72.2 L566.1 74.3 L571.2 71 L575.3 73 L579.4 76.6 L583.5 77.6 L588.6 75 L593.7 76.1 L600 77.6 L600.5 77.8 L601.5 78.3 L602.5 78.7 L603.5 79.1 L604.5 79.6 L605.5 80 L606.5 80.5 L607.5 81 L608.5 81.5 L609.5 82 L610.5 82.5 L611.5 83 L612.5 83.6 L613.5 84.1 L614.5 84.7 L615.5 85.3 L616.5 85.8 L617.5 86.4 L618.5 87.1 L619.5 87.7 L620.5 88.3 L621.5 89 L622.5 89.6 L623.5 90.3 L624.5 91 L625.5 91.7 L626.5 92.4 L627.5 93.1 L628.5 93.9 L629.5 94.6 L630.5 95.4 L631.5 96.2 L632.5 97 L633.5 97.8 L634.5 98.6 L635.5 99.4 L636.5 100.3 L637.5 101.1 L638.5 102 L639.5 102.9 L640.5 103.8 L641.5 104.7 L642.5 105.7 L643.5 106.6 L644.5 107.6 L645.5 108.6 L646.5 109.6 L647.5 110.6 L648.5 111.6 L649.5 112.7 L650.5 113.7 L651.5 114.8 L652.5 115.9 L653.5 117 L654.5 118.1 L655.5 119.3 L656.5 120.4 L657.5 121.6 L658.5 122.8 L659.5 124 L660.5 125.2 L661.5 126.4 L662.5 127.7 L663.5 129 L664.5 130.2 L665.5 131.6 L666.5 132.9 L667.5 134.2 L668.5 135.6 L669.5 136.9 L670.5 138.3 L671.5 139.7 L672.5 141.2 L673.5 142.6 L674.5 144.1 L675.5 145.5 L676.5 147 L677.5 148.6 L678.5 150.1 L679.5 151.6 L680.5 153.2 L681.5 154.8 L682.5 156.4 L683.5 158 L684.5 159.7 L685.5 161.3 L686.5 163 L687.5 164.7 L688.5 166.4 L689.5 168.1 L690.5 169.9 L691.5 171.7 L692.5 173.5 L693.5 175.3 L694.5 177.1 L695.5 179 L696.5 180.8 L697.5 182.7 L698.5 184.6 L699.5 186.5 L700.5 188.5 L701.5 190.5 L702.5 192.5 L703.5 194.5 L704.5 196.5 L705.5 198.5 L706.5 200.6 L707.5 202.7 L708.5 204.8 L709.5 206.9 L710.5 209.1 L711.5 211.2 L712.5 213.4 L713.5 215.6 L714.5 217.9 L715.5 220.1 L716.5 222.4 L717.5 224.7 L718.5 227 L719.5 229.3 L720.5 231.7 L721.5 234.1 L722.5 236.5 L723.5 238.9 L724.5 241.3 L725.5 243.8 L726.5 246.3 L727.5 248.8 L728.5 251.3 L729.5 253.8 L730.5 256.4 L731.5 259 L732.5 261.6 L733.5 264.2 L734.5 266.9 L735.5 269.6 L736.5 272.3 L737.5 275 L738.5 277.7 L739.5 280.5 L740.5 283.3 L741.5 286.1 L742.5 288.9 L743.5 291.8" stroke="#120c28" stroke-width="1.25" fill="none"/>
<path d="M646 51.6H666" stroke="#ff3030" stroke-width="1.1"/>
<text x="47.2" y="314" font-size="14" text-anchor="start" textLength="15.5" lengthAdjust="spacingAndGlyphs" >0.1</text>
<text x="419.6" y="305" font-size="14" text-anchor="start" textLength="15.5" lengthAdjust="spacingAndGlyphs" >0.1</text>
<text x="121" y="314" font-size="14" text-anchor="start" textLength="15.5" lengthAdjust="spacingAndGlyphs" >1.0</text>
<text x="491.9" y="305" font-size="14" text-anchor="start" textLength="15.5" lengthAdjust="spacingAndGlyphs" >1.0</text>
<text x="190.5" y="314" font-size="14" text-anchor="start" textLength="22" lengthAdjust="spacingAndGlyphs" >10.0</text>
<text x="561.2" y="305" font-size="14" text-anchor="start" textLength="22" lengthAdjust="spacingAndGlyphs" >10.0</text>
<text x="259.5" y="314" font-size="14" text-anchor="start" textLength="28" lengthAdjust="spacingAndGlyphs" >100.0</text>
<text x="630.3" y="305" font-size="14" text-anchor="start" textLength="28" lengthAdjust="spacingAndGlyphs" >100.0</text>
<text x="330.1" y="314" font-size="14" text-anchor="start" textLength="33.5" lengthAdjust="spacingAndGlyphs" >1000.0</text>
<text x="700.1" y="305" font-size="14" text-anchor="start" textLength="33.5" lengthAdjust="spacingAndGlyphs" >1000.0</text>
<text x="191.5" y="325.2" font-size="13" text-anchor="start" textLength="35" lengthAdjust="spacingAndGlyphs" >λ [μm]</text>
<text x="564.3" y="317" font-size="13" text-anchor="start" textLength="34" lengthAdjust="spacingAndGlyphs" >λ [μm]</text>
<text x="45.4" y="30.4" font-size="13.2" text-anchor="end" >-9</text>
<text x="418.4" y="25.9" font-size="13.2" text-anchor="end" >-9</text>
<text x="45.4" y="86.7" font-size="13.2" text-anchor="end" >-10</text>
<text x="418.4" y="87.8" font-size="13.2" text-anchor="end" >-10</text>
<text x="45.4" y="143.1" font-size="13.2" text-anchor="end" >-11</text>
<text x="418.4" y="149.6" font-size="13.2" text-anchor="end" >-11</text>
<text x="45.4" y="199.4" font-size="13.2" text-anchor="end" >-12</text>
<text x="418.4" y="211.5" font-size="13.2" text-anchor="end" >-12</text>
<text x="45.4" y="255.7" font-size="13.2" text-anchor="end" >-13</text>
<text x="418.4" y="273.3" font-size="13.2" text-anchor="end" >-13</text>
<text transform="translate(19.9,198.2) rotate(-90)" font-size="12.5" style="stroke-width:0.1px" textLength="93" lengthAdjust="spacingAndGlyphs">log ν F<tspan font-size="8" dy="3">ν</tspan><tspan dy="-3">&#160;&#160;[erg/cm</tspan><tspan font-size="8" dy="-4.5">2</tspan><tspan dy="4.5">/s]</tspan></text>
<text transform="translate(392.6,194.6) rotate(-90)" font-size="12.5" style="stroke-width:0.1px" textLength="96" lengthAdjust="spacingAndGlyphs">log ν F<tspan font-size="8" dy="3">ν</tspan><tspan dy="-3">&#160;&#160;[erg/cm</tspan><tspan font-size="8" dy="-4.5">2</tspan><tspan dy="4.5">/s]</tspan></text>
<text x="83" y="257.8" font-size="12" text-anchor="start" textLength="70.5" lengthAdjust="spacingAndGlyphs" >dist = 140.0 pc</text>
<text x="106.4" y="268.7" font-size="12" text-anchor="start" textLength="47" lengthAdjust="spacingAndGlyphs" >star + UV</text>
<text x="106.4" y="279.6" font-size="12" text-anchor="start" textLength="73" lengthAdjust="spacingAndGlyphs" >model incl = 0°</text>
<text x="106.4" y="290.8" font-size="12" text-anchor="start" textLength="80" lengthAdjust="spacingAndGlyphs" >model incl = 45°</text>
<text x="646.6" y="25" font-size="12" text-anchor="start" textLength="70" lengthAdjust="spacingAndGlyphs" >dist = 140.0 pc</text>
<text x="646.6" y="39.8" font-size="12" text-anchor="start" textLength="50.5" lengthAdjust="spacingAndGlyphs" >R = 50000</text>
<text x="669.8" y="53" font-size="12" text-anchor="start" textLength="46.5" lengthAdjust="spacingAndGlyphs" >star + UV</text>
</svg>
<div class="cap" id="c1" style="top:341px;width:709.5px;text-align:justify;text-align-last:justify;white-space:normal">Figure 1: Resulting SED for a “typical” T<span style="display:inline-block;width:4px"></span>Tauri disc setup, right hand side includes</div>
<div class="cap" id="c2" style="top:363.5px;letter-spacing:0.15px">all calculated spectral lines at high spectral resolution <i>R</i><span style="display:inline-block;width:2px"></span>=<span style="display:inline-block;width:2px"></span>50<span style="display:inline-block;width:3px"></span>000.</div>
</body></html>
